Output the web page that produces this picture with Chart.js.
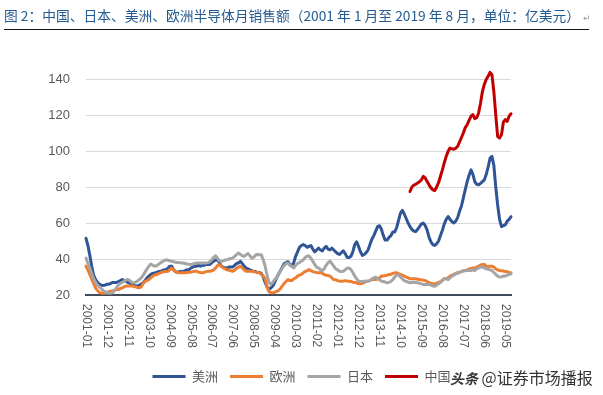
<!DOCTYPE html>
<html>
<head>
<meta charset="utf-8">
<script src="https://cdn.jsdelivr.net/npm/chart.js@4.4.1/dist/chart.umd.min.js"></script>
<style>
  html, body { margin: 0; padding: 0; background: #fff; }
  #wrap { position: relative; width: 603px; height: 395px; overflow: hidden; }
  #title {
    position: absolute; left: 4px; top: 4px; width: 585px; height: 25px;
    border-bottom: 1.5px solid #111;
    font: 13.75px "Noto Sans CJK SC", sans-serif; color: #245a92;
    white-space: nowrap; line-height: 22px;
  }
  #title .ret { font: 9px "DejaVu Sans", sans-serif; color: #999; margin-left: 3px; }
  #mark {
    position: absolute; left: 450px; top: 365px;
    font: 16px "Noto Sans CJK SC", sans-serif; color: #333; white-space: nowrap;
  }
  #mark b { font-size: 14px; font-style: italic; }
  canvas { position: absolute; left: 0; top: 0; }
</style>
</head>
<body>
<div id="wrap">
  <canvas id="chart" width="603" height="395"></canvas>
  <div id="title">图 2：中国、日本、美洲、欧洲半导体月销售额（2001 年 1 月至 2019 年 8 月，单位：亿美元）<span class="ret">↵</span></div>
  <div id="mark"><b>头条</b> @证券市场播报</div>
</div>
<script>
// monthly categories 2001-01 .. 2019-08
const months = [];
for (let y = 2001; y <= 2019; y++) {
    for (let m = 1; m <= 12; m++) {
        if (y === 2019 && m > 8) break;
        months.push(y + '-' + String(m).padStart(2, '0'));
    }
}

// labels shown under the axis (every 11 months)
const tickLabels = ['2001-01', '2001-12', '2002-11', '2003-10', '2004-09', '2005-08', '2006-07',
    '2007-06', '2008-05', '2009-04', '2010-03', '2011-02', '2012-01', '2012-12', '2013-11',
    '2014-10', '2015-09', '2016-08', '2017-07', '2018-06', '2019-05'];

const yTicks = [20, 40, 60, 80, 100, 120, 140];

// 美洲, one row per year
const americas = [
    51.5, 47.5, 42, 36, 31, 28.6, 27, 26, 25.5, 25.3, 25.5, 26,
    26, 26.5, 27, 27, 27, 27.5, 28, 28.6, 28, 27.7, 27, 26.5,
    25.9, 25.5, 25, 25, 25.5, 26, 26.8, 28, 29.5, 30.5, 31.5, 32,
    32.3, 32.5, 33, 33, 33.5, 34, 34, 35, 36, 36, 34, 33,
    32.5, 33, 33, 33, 33.5, 34, 34, 35, 35.5, 36, 36, 36.5,
    36, 36.5, 36.5, 37, 37, 37, 38, 38.7, 39.5, 39.6, 38, 36,
    35.5, 35, 35, 35.5, 35.5, 35.6, 36.5, 37.5, 37.8, 38.7, 37.5, 36,
    35, 34.5, 34, 33.5, 33, 33, 32.5, 32.5, 32, 30, 27, 24.5,
    23, 24, 25, 27, 29.5, 31.5, 33.5, 35.5, 37.5, 38, 38.5, 37,
    36, 38, 41.5, 44, 46.5, 47.5, 48, 47.5, 46.5, 47, 47.5, 45.5,
    44, 45, 46, 45, 44.5, 46, 47, 45.5, 45, 46, 45, 44,
    43, 42.5, 43.5, 44.5, 43, 41, 40.8, 41.5, 44, 48, 49.5, 47,
    44, 42, 42.5, 43.5, 45, 48, 51, 53, 55.5, 58, 58.5, 56.5,
    53, 50.5, 50.5, 52, 53, 55, 55, 57.5, 61.5, 65.5, 67, 65,
    62.5, 60, 58, 56.5, 55.5, 55.2, 56.5, 58, 59.5, 60, 58.5, 56,
    52, 49.5, 48, 47.5, 48.5, 50, 53, 56, 59.5, 62, 63.6, 62,
    60.8, 60, 61, 63, 66.5, 69.5, 74, 78.5, 83, 86.5, 89.5, 87,
    83, 81.5, 81.2, 82, 83, 84, 87, 91, 96, 97, 92, 80,
    70, 62, 58, 58.5, 59, 61, 62, 63.5
];

// 欧洲
const europe = [
    36, 34, 31.5, 29, 26.5, 24, 22.5, 21.5, 21, 21, 21, 21.5,
    21.8, 22.2, 22.2, 22.5, 23, 23, 23.5, 24, 24.5, 25, 25, 25,
    25, 24.8, 24.5, 24.2, 24, 24.5, 26.5, 27.5, 28, 28.6, 29.5, 30.5,
    31, 31.4, 31.8, 32.3, 32.7, 33, 33, 33.2, 34, 35, 34, 33,
    32.5, 32.3, 32.3, 32.3, 32.3, 32.5, 32.7, 32.7, 33, 33.2, 33.2, 32.7,
    32.5, 32.3, 32.5, 33, 33.2, 33.2, 33.5, 34, 35, 36.3, 36.9, 36,
    35, 34.5, 34, 33.8, 33.5, 33.2, 33.8, 34.8, 35.5, 36, 35, 34,
    33.2, 33.2, 33.2, 33.2, 33, 32.7, 32.5, 32.3, 31.5, 30.5, 29, 24.5,
    21.8, 21.3, 21.3, 21.5, 22, 22.5, 23.5, 25, 26.5, 27.5, 28.6, 28,
    28, 29, 29.5, 30.5, 31, 31.5, 32.3, 33, 33.5, 34.2, 33.5, 33,
    32.7, 32.5, 32.3, 32.5, 32, 31.4, 31, 30.8, 30.5, 29.5, 28.6, 28.5,
    28, 27.7, 27.7, 27.7, 28, 27.7, 27.7, 27.5, 27.1, 27, 26.8, 26.2,
    26.2, 26.5, 27, 27.7, 27.7, 28, 28.6, 28.6, 28.6, 29, 29.5, 30.5,
    30.5, 30.8, 31, 31.4, 31.5, 32, 32.3, 32.3, 31.8, 31.4, 31, 30.5,
    30, 29.5, 29, 29, 29, 29, 28.8, 28.6, 28.4, 28.2, 28, 27.5,
    26.8, 26.5, 26.3, 26.2, 26.5, 27, 27.5, 28.2, 29, 29.2, 29.5, 30.5,
    31, 31.4, 32, 32.5, 32.7, 33, 33.3, 33.6, 34, 34.5, 34.7, 35,
    35, 35.5, 36, 36.6, 37, 37, 36, 35.8, 36, 36, 35.5, 34.5,
    34, 33.6, 33.5, 33.3, 33, 32.9, 32.6, 32.3
];

// 日本
const japan = [
    40.5, 37.5, 35, 32, 29, 27, 25.5, 24.5, 23.5, 22.5, 21.8, 21.2,
    21, 21, 21.3, 22.5, 24, 25.5, 26.5, 27, 27.7, 28.3, 28.6, 28,
    27, 26.8, 27, 27.8, 28.6, 29.5, 31, 32.8, 34.5, 36, 37.2, 36.5,
    36, 36.2, 37, 37.8, 38.5, 39, 39.6, 39.3, 39, 38.7, 38.5, 38.2,
    38, 38, 37.8, 37.8, 37.5, 37.2, 37, 37, 37.2, 37.5, 37.8, 37.8,
    37.8, 37.8, 37.8, 37.8, 38, 38.5, 39.5, 41, 41.8, 40.5, 39, 38.7,
    39, 39.5, 39.6, 40, 40.3, 40.5, 41.5, 42.5, 43.3, 42.5, 41.8, 41.5,
    42.3, 43, 41.8, 40.5, 41, 42.2, 42.5, 42.4, 42.4, 39.5, 36, 31,
    27, 26, 27, 28.5, 29.5, 31.5, 33.5, 35, 36.5, 37.5, 37.8, 36.5,
    36, 35, 36.5, 37.5, 38, 38.8, 39.5, 40.8, 41.6, 41.6, 40.5, 38.8,
    37, 35.5, 35, 34.2, 33.5, 34.5, 36.5, 38, 38.8, 37.5, 36, 34.5,
    34, 33.2, 33, 33.2, 34, 35, 35, 34.2, 32.5, 30.5, 29, 27.7,
    27.5, 27.5, 27.7, 27.7, 27.7, 28, 29, 29.5, 30, 29, 28.5, 27.7,
    27.5, 27.2, 26.8, 27, 27.5, 28.6, 30, 31, 31.2, 30, 29, 28,
    27.5, 27.2, 26.8, 27, 27.1, 27, 26.8, 26.5, 26.2, 25.8, 25.8, 25.8,
    25.8, 25.5, 25, 24.9, 25.5, 26.2, 27, 28, 29, 29, 28.6, 29.5,
    30.5, 31, 31.8, 32, 32.5, 33, 33.5, 33.6, 33.6, 33.6, 33.6, 34,
    33.6, 34.5, 35, 35.5, 35.5, 35, 34.5, 34.5, 34, 33.6, 32.5, 31.5,
    30.5, 30, 30, 30.5, 30.5, 31, 31.4, 31.8
];

// 中国, series starts 2015-03
const chinaStart = '2015-03';
const chinaValues = [
    77.5, 80, 81, 81.5, 82.2, 83, 84, 85.9, 85, 83,
    81.2, 79.5, 78.4, 78, 80, 82.5, 86, 89.5, 93.5, 97,
    99.8, 101.6, 101.2, 101, 101.5, 102.6, 105, 107.5, 110, 113,
    114.6, 117, 119.3, 120.2, 118, 118.5, 121.1, 126.5, 133, 137,
    139.7, 141.5, 143.7, 142.4, 133, 120, 108, 107.2, 109, 116,
    117.5, 116.5, 119.3, 120.7
];
const china = months.map((m, i) => {
    const k = i - months.indexOf(chinaStart);
    return k >= 0 ? chinaValues[k] : null;
});

const FONT = '"Liberation Sans", "Noto Sans CJK SC", sans-serif';
const CJK = '"Noto Sans CJK SC", sans-serif';

// rotated month labels, drawn at the category positions of the x scale
const xLabelPlugin = {
    id: 'xLabels',
    afterDraw(chart) {
        const { ctx, chartArea } = chart;
        const xs = chart.scales.x;
        ctx.save();
        ctx.font = '12px ' + FONT;
        ctx.fillStyle = '#595959';
        ctx.textAlign = 'left';
        ctx.textBaseline = 'middle';
        tickLabels.forEach(lab => {
            const px = xs.getPixelForValue(months.indexOf(lab));
            ctx.save();
            ctx.translate(px, chartArea.bottom + 9);
            ctx.rotate(Math.PI / 2);
            ctx.fillText(lab, 0, 0);
            ctx.restore();
        });
        ctx.restore();
    }
};

const line = (label, data, color, order) => ({
    label, data, order,
    borderColor: color,
    backgroundColor: color,
    borderWidth: 3,
    pointRadius: 0,
    fill: false,
    tension: 0,
    clip: false,
    spanGaps: false,
    borderJoinStyle: 'round',
    borderCapStyle: 'round'
});

new Chart(document.getElementById('chart'), {
    type: 'line',
    data: {
        labels: months,
        datasets: [
            line('美洲', americas, '#2f5597', 4),
            line('欧洲', europe, '#ed7d31', 3),
            line('日本', japan, '#a5a5a5', 2),
            line('中国', china, '#c00000', 1)
        ]
    },
    options: {
        responsive: false,
        animation: false,
        devicePixelRatio: 1,
        layout: { padding: { top: 79, right: 0, bottom: 2, left: 0 } },
        scales: {
            x: {
                offset: false,
                grid: { display: false },
                border: { display: true, color: '#3f4b5b', width: 2 },
                ticks: { display: false },
                afterFit: s => { s.height = 63; }
            },
            y: {
                min: 20,
                max: 140,
                afterBuildTicks: s => { s.ticks = yTicks.map(v => ({ value: v })); },
                grid: { color: '#d9d9d9', lineWidth: 1, drawTicks: false },
                border: { display: false },
                ticks: { color: '#595959', font: { size: 13, family: FONT }, padding: 16 },
                afterFit: s => { s.width = 86; }
            },
            // empty right-hand margin so the legend stays centred on the page
            yRight: {
                position: 'right',
                min: 20,
                max: 140,
                grid: { display: false },
                border: { display: false },
                ticks: { display: false },
                afterFit: s => { s.width = 92; }
            }
        },
        plugins: {
            legend: {
                position: 'bottom',
                align: 'center',
                labels: {
                    boxWidth: 33,
                    boxHeight: 3,
                    padding: 12,
                    color: '#595959',
                    font: { size: 13, family: CJK },
                    sort: (a, b) => a.datasetIndex - b.datasetIndex,
                    generateLabels: chart => Chart.defaults.plugins.legend.labels
                        .generateLabels(chart).map(l => ({ ...l, lineWidth: 0 }))
                }
            },
            tooltip: { enabled: false }
        }
    },
    plugins: [xLabelPlugin]
});
</script>
</body>
</html>
